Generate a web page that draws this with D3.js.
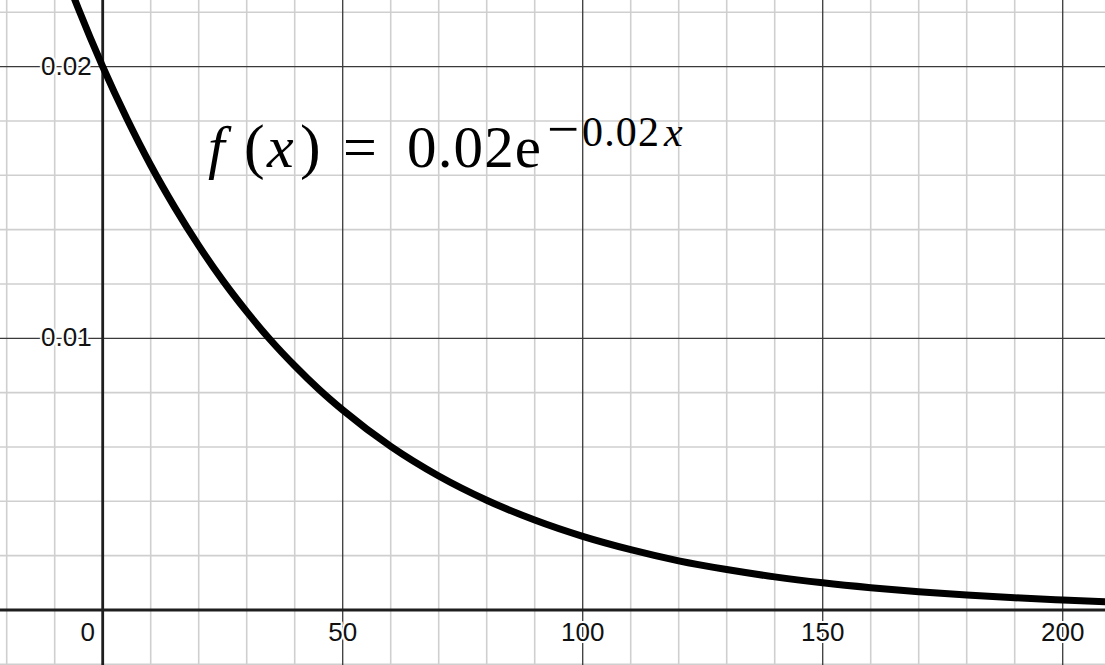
<!DOCTYPE html>
<html>
<head>
<meta charset="utf-8">
<script src="https://cdn.jsdelivr.net/npm/d3@7"></script>
<style>
  html, body { margin: 0; padding: 0; background: #fff; }
  svg { display: block; }
  .lbl { font-family: Arial, "Liberation Sans", sans-serif; font-size: 26px; fill: #111;
         stroke: #fff; stroke-width: 4px; paint-order: stroke; stroke-linejoin: round; }
  .math { font-family: "Cambria Math", "Liberation Serif", "DejaVu Serif", serif; fill: #000; }
</style>
</head>
<body>
<svg id="chart" width="1105" height="665"></svg>
<script>
// curve points (x, f(x))
var curveX = [-25, -20, -15, -10, -5, 0, 5, 10, 15, 20, 25, 30, 35, 40, 45, 50,
              60, 70, 80, 90, 100, 110, 120, 130, 140, 150, 160, 170, 180, 190, 200, 210]
var curveY = [0.03297, 0.02984, 0.02700, 0.02443, 0.02210, 0.02000, 0.01810, 0.01637,
              0.01482, 0.01341, 0.01213, 0.01098, 0.00993, 0.00899, 0.00813, 0.00736,
              0.00602, 0.00493, 0.00404, 0.00331, 0.00271, 0.00222, 0.00181, 0.00149,
              0.00122, 0.00100, 0.00082, 0.00067, 0.00055, 0.00045, 0.00037, 0.00030]

// grid and ticks
var xMinor = [-20, -10, 10, 20, 30, 40, 60, 70, 80, 90, 110, 120, 130, 140, 160, 170, 180, 190]
var xMajor = [50, 100, 150, 200]
var xLabels = ["0", "50", "100", "150", "200"]
var xLabelVals = [0, 50, 100, 150, 200]
var yMinor = [-0.002, 0.002, 0.004, 0.006, 0.008, 0.012, 0.014, 0.016, 0.018, 0.022]
var yMajor = [0.01, 0.02]
var yLabels = ["0.01", "0.02"]

var W = 1105, H = 665
var svg = d3.select("#chart")

// origin sits at (102.7, 610); 4.8 px per x unit, 27170 px per y unit
var x = d3.scaleLinear().domain([-21.396, 208.81]).range([0, W])
var y = d3.scaleLinear().domain([-0.002024, 0.022451]).range([H, 0])

// minor grid
svg.append("g").selectAll("line").data(xMinor).enter().append("line")
  .attr("x1", d => x(d)).attr("x2", d => x(d)).attr("y1", 0).attr("y2", H)
  .attr("stroke", "#cfcfcf").attr("stroke-width", 1.6)
svg.append("g").selectAll("line").data(yMinor).enter().append("line")
  .attr("y1", d => y(d)).attr("y2", d => y(d)).attr("x1", 0).attr("x2", W)
  .attr("stroke", "#cfcfcf").attr("stroke-width", 1.6)

// major grid
svg.append("g").selectAll("line").data(xMajor).enter().append("line")
  .attr("x1", d => x(d)).attr("x2", d => x(d)).attr("y1", 0).attr("y2", H)
  .attr("stroke", "#3a3a3a").attr("stroke-width", 1.3)
svg.append("g").selectAll("line").data(yMajor).enter().append("line")
  .attr("y1", d => y(d)).attr("y2", d => y(d)).attr("x1", 0).attr("x2", W)
  .attr("stroke", "#3a3a3a").attr("stroke-width", 1.3)

// axes
svg.append("line").attr("x1", x(0)).attr("x2", x(0)).attr("y1", 0).attr("y2", H)
  .attr("stroke", "#1e1e1e").attr("stroke-width", 2.8)
svg.append("line").attr("y1", y(0)).attr("y2", y(0)).attr("x1", 0).attr("x2", W)
  .attr("stroke", "#1e1e1e").attr("stroke-width", 2.8)

// tick labels
svg.append("g").selectAll("text").data(xLabelVals).enter().append("text")
  .attr("class", "lbl")
  .attr("x", d => d == 0 ? x(0) - 15 : x(d))
  .attr("y", 641)
  .attr("text-anchor", "middle")
  .text((d, i) => xLabels[i])
svg.append("g").selectAll("text").data(yMajor).enter().append("text")
  .attr("class", "lbl")
  .attr("x", x(0) - 11)
  .attr("y", d => y(d) + 8)
  .attr("text-anchor", "end")
  .text((d, i) => yLabels[i])

// curve
var pts = curveX.map((d, i) => [d, curveY[i]])
var line = d3.line().x(d => x(d[0])).y(d => y(d[1])).curve(d3.curveMonotoneX)
svg.append("path").datum(pts)
  .attr("d", line)
  .attr("fill", "none")
  .attr("stroke", "#000")
  .attr("stroke-width", 7)

// formula
var f = svg.append("g").attr("class", "math")
f.append("text").attr("x", 208).attr("y", 167).attr("font-size", 60).attr("font-style", "italic").text("f")
f.append("text").attr("x", 244).attr("y", 167).attr("font-size", 62).text("(")
f.append("text").attr("x", 267).attr("y", 167).attr("font-size", 60).attr("font-style", "italic").text("x")
f.append("text").attr("x", 300).attr("y", 167).attr("font-size", 62).text(")")
f.append("text").attr("x", 343).attr("y", 167).attr("font-size", 60).text("=")
f.append("text").attr("x", 407).attr("y", 167).attr("font-size", 59)
  .attr("textLength", 134).attr("lengthAdjust", "spacing").text("0.02e")
f.append("text").attr("x", 547).attr("y", 148).attr("font-size", 57).text("\u2212")
f.append("text").attr("x", 582).attr("y", 146).attr("font-size", 42)
  .attr("textLength", 77).attr("lengthAdjust", "spacing").text("0.02")
f.append("text").attr("x", 664).attr("y", 146).attr("font-size", 42).attr("font-style", "italic").text("x")
</script>
</body>
</html>
